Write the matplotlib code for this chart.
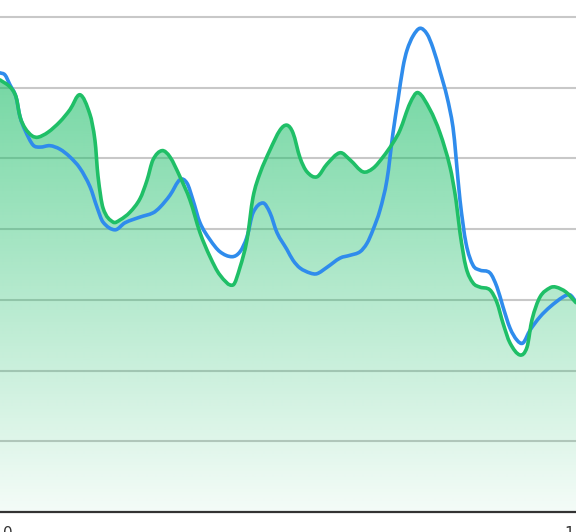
import numpy as np
import matplotlib
matplotlib.use("Agg")
import matplotlib.pyplot as plt
from matplotlib.path import Path
from matplotlib.patches import PathPatch

# sample positions (0..576 across the visible window) and values (grid step = 10)
green_x = [0, 10, 16, 20, 25, 32, 38, 48, 60, 70, 80, 90, 95, 98, 103, 113, 120,
           130, 140, 147, 153, 162, 170, 180, 190, 200, 210, 220, 233, 240, 247, 253,
           260, 270, 280, 287, 293, 300, 307, 317, 327, 340, 350, 363, 373, 383, 393,
           400, 410, 418, 430, 440, 450, 456, 460, 466, 473, 480, 490, 497, 503, 510,
           520, 527, 532, 540, 550, 556, 566, 576]
green_y = [61.1, 60.1, 58.7, 55.9, 54.3, 53.2, 53.0, 53.7, 55.2, 56.9, 59.0, 56.2, 52.5,
           47.5, 43.0, 41.0, 41.3, 42.4, 44.3, 46.9, 49.8, 51.1, 50.2, 47.4, 44.1,
           39.5, 36.1, 33.5, 32.1, 34.6, 38.5, 44.5, 47.9, 51.2, 54.0, 54.7, 53.6, 50.1,
           48.1, 47.4, 49.2, 50.8, 49.8, 48.1, 48.6, 50.2, 52.2, 54.0, 57.8, 59.3, 56.9,
           53.6, 48.8, 44.1, 39.5, 34.6, 32.4, 31.8, 31.4, 29.6, 26.7, 23.9, 22.2, 23.3,
           27.2, 30.4, 31.7, 31.8, 31.1, 29.6]

blue_x = [0, 5, 10, 16, 20, 25, 33, 40, 50, 60, 70, 80, 90, 97, 103, 115, 125, 140, 153,
          160, 170, 180, 187, 193, 200, 210, 220, 232, 240, 247, 253, 263, 270, 277, 287,
          293, 300, 310, 317, 327, 340, 350, 360, 367, 373, 380, 387, 393, 398, 403, 407,
          413, 420, 427, 433, 440, 447, 453, 456, 460, 466, 473, 480, 490, 497, 503, 510,
          517, 523, 530, 540, 550, 563, 570, 576]
blue_y = [62.1, 61.8, 60.4, 58.7, 55.9, 54.0, 51.9, 51.6, 51.8, 51.3, 50.2, 48.6, 46.0,
          43.1, 41.0, 39.9, 40.9, 41.7, 42.3, 43.1, 44.8, 47.0, 46.5, 44.1, 40.9, 38.5,
          36.8, 36.1, 36.8, 38.9, 42.3, 43.7, 42.3, 39.5, 37.1, 35.6, 34.5, 33.8, 33.7,
          34.6, 35.9, 36.3, 36.8, 38.0, 39.9, 42.7, 47.0, 53.6, 58.3, 62.9, 65.3, 67.3,
          68.4, 67.6, 65.6, 62.3, 58.7, 54.4, 50.2, 44.1, 38.0, 34.9, 34.2, 33.8, 31.8,
          29.0, 26.0, 24.3, 23.9, 25.7, 27.6, 29.0, 30.4, 30.7, 29.7]

grid_values = [10, 20, 30, 40, 50, 60, 70]
x_labels = ["0", "1"]

GREEN = "#1fbf67"
BLUE = "#2f8cec"
YMAX = 72.4
XMAX = 576


def smooth_path(xs, ys, base=None):
    # cubic Hermite in x, turned into Bezier segments
    x = np.asarray(xs, float)
    y = np.asarray(ys, float)
    n = len(x)
    m = np.zeros(n)
    m[1:-1] = (y[2:] - y[:-2]) / (x[2:] - x[:-2])
    m[0] = (y[1] - y[0]) / (x[1] - x[0])
    m[-1] = (y[-1] - y[-2]) / (x[-1] - x[-2])
    verts = [(x[0], y[0])]
    codes = [Path.MOVETO]
    for i in range(n - 1):
        d = (x[i + 1] - x[i]) / 3.0
        verts += [(x[i] + d, y[i] + m[i] * d),
                  (x[i + 1] - d, y[i + 1] - m[i + 1] * d),
                  (x[i + 1], y[i + 1])]
        codes += [Path.CURVE4] * 3
    if base is not None:
        verts += [(x[-1], base), (x[0], base), (x[0], y[0])]
        codes += [Path.LINETO, Path.LINETO, Path.CLOSEPOLY]
    return Path(verts, codes)


fig = plt.figure(figsize=(5.76, 5.32), dpi=100)
ax = fig.add_axes([0, 20 / 532, 1, 512 / 532])
ax.set_xlim(0, XMAX)
ax.set_ylim(0, YMAX)

ax.set_yticks(grid_values)
ax.yaxis.grid(True, color="#c8c8c8", linewidth=1.5, zorder=0)
ax.set_axisbelow(True)
ax.tick_params(axis="y", length=0, labelleft=False)
for side in ["left", "right", "top"]:
    ax.spines[side].set_visible(False)
ax.spines["bottom"].set_color("#333333")
ax.spines["bottom"].set_linewidth(1.6)
ax.spines["bottom"].set_zorder(5)

# gradient fill under the green series
rgb = matplotlib.colors.to_rgb("#20bf6b")
alpha = np.linspace(0.72, 0.05, 256)
grad = np.zeros((256, 1, 4))
grad[:, 0, :3] = rgb
grad[:, 0, 3] = alpha
img = ax.imshow(grad, extent=[0, XMAX, 0, YMAX], aspect="auto", origin="upper",
                interpolation="bilinear", zorder=1)
fill_patch = PathPatch(smooth_path(green_x, green_y, base=0), facecolor="none",
                       edgecolor="none", transform=ax.transData)
ax.add_patch(fill_patch)
img.set_clip_path(fill_patch)

ax.add_patch(PathPatch(smooth_path(blue_x, blue_y), facecolor="none", edgecolor=BLUE,
                       linewidth=2.6, capstyle="round", joinstyle="round", zorder=3))
ax.add_patch(PathPatch(smooth_path(green_x, green_y), facecolor="none", edgecolor=GREEN,
                       linewidth=2.6, capstyle="round", joinstyle="round", zorder=3))

ax.set_xticks([8, 569], x_labels)
ax.tick_params(axis="x", length=0, pad=10, labelsize=11, labelcolor="#333333")

fig.savefig("out.png", dpi=100)
